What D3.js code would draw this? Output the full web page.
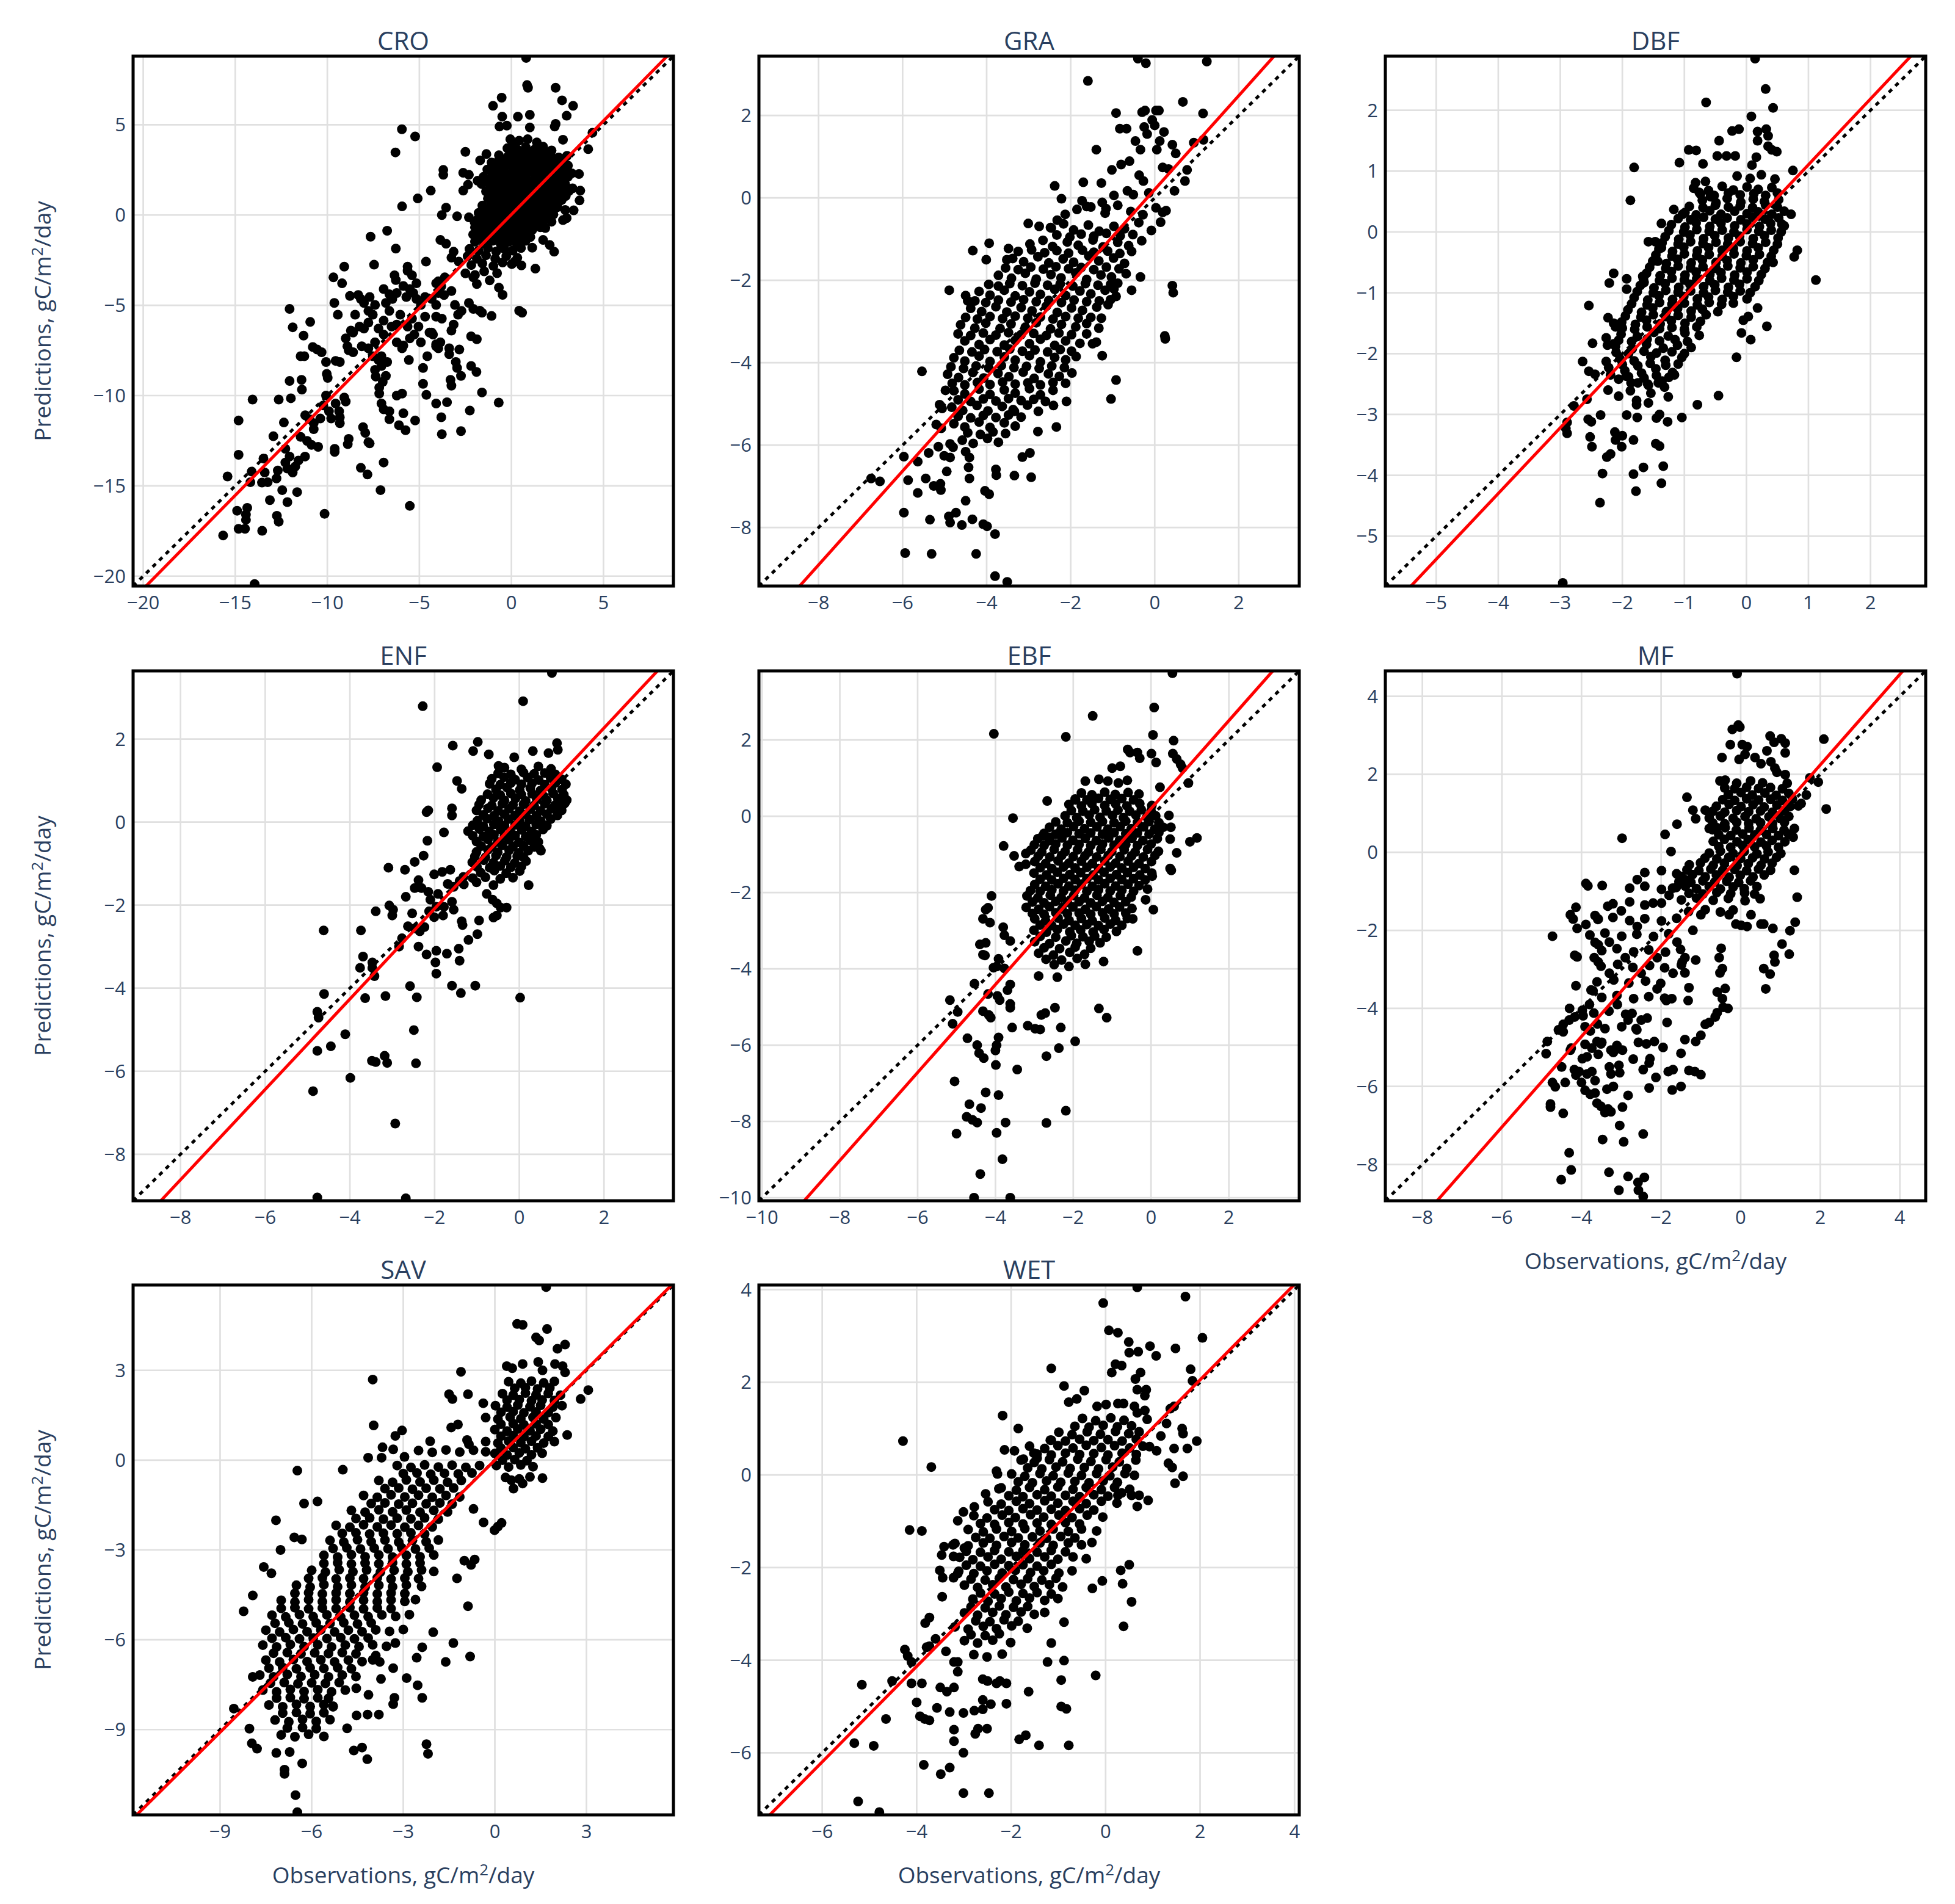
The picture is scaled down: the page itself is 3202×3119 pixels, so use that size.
<!DOCTYPE html>
<html>
<head>
<meta charset="utf-8">
<script src="https://cdn.jsdelivr.net/npm/d3@7"></script>
<style>
html,body{margin:0;padding:0;background:#fff;}
svg{display:block;}
</style>
</head>
<body>
<script>
// ---------------- DATA ----------------
const panelNames = ["CRO","GRA","DBF","ENF","EBF","MF","SAV","WET"];
const axisRanges = [[-20.55,8.8],[-9.42,3.44],[-5.82,2.89],[-9.12,3.64],[-10.08,3.81],[-8.93,4.65],[-11.85,5.85],[-7.34,4.1]];
const tickValues = [
  [-20,-15,-10,-5,0,5],
  [-8,-6,-4,-2,0,2],
  [-5,-4,-3,-2,-1,0,1,2],
  [-8,-6,-4,-2,0,2],
  [-10,-8,-6,-4,-2,0,2],
  [-8,-6,-4,-2,0,2,4],
  [-9,-6,-3,0,3],
  [-6,-4,-2,0,2,4]
];
const fitSlope = [1.037,1.139,1.081,1.088,1.153,1.160,1.010,1.031];
const fitIntercept = [0.03,0.205,0.025,0.09,0.20,-0.08,0.0,-0.01];

const croPts = [
[0.8,8.7],[0.85,7.2],[0.9,7.05],[2.4,7.05],[-0.53,6.5],[-1.0,6.05],[2.75,6.35],[3.35,6.05],[3.0,5.5],[-0.5,5.45],[0.35,5.45],[1.0,5.55],[2.4,5.05],[2.35,4.9],[-0.65,4.9],[-0.25,4.95],[1.0,4.85],[-5.95,4.75],[-5.23,4.35],[-6.3,3.47],[-0.06,4.2],[2.8,4.17],[4.4,4.56],[4.17,3.65],[-2.5,3.5],[-1.36,3.38],[-0.69,3.03],[-1.7,3.03],[-3.7,2.5],[-3.7,2.23],[-2.62,2.34],[-2.31,2.23],[-2.62,1.35],[-2.36,1.68],[-1.84,1.9],[-4.38,1.35],[-5.09,0.92],[-5.94,0.48],[-3.55,0.41],[-3.78,0],[-2.95,-0.07],[-2.31,-0.13],[-2.0,-0.39],[3.67,2.27],[3.74,1.35],[3.7,0.81],[3.38,0.26],[2.8,-0.28],[3.0,-0.17],[1.84,-0.72],[1.72,-1.38],[2.08,-1.66],[2.32,-2.03],[1.13,-1.81],[1.3,-2.97],[0.54,-2.79],[0.18,-2.58],[0.42,-5.3],[0.58,-5.41],[-1.08,-5.59],[-1.72,-5.3],[-1.6,-5.41],
[-6.75,-0.87],[-7.65,-1.2],[-6.28,-1.86],[-7.46,-2.75],[-9.08,-2.86],[-4.64,-2.58],[-3.86,-1.38],[-3.55,-1.59],[-3.26,-2.36],[-3.14,-2.03],[-2.86,-2.58],[-2.5,-3.23],[-2.07,-3.45],[-3.26,-4.21],[-3.62,-3.45],[-3.97,-3.67],[-3.07,-4.98],[-2.71,-5.31],[-2.9,-5.52],[-2.31,-4.87],[-2.07,-5.2],[-3.78,-5.74],[-3.14,-6.07],[-3.26,-6.4],[-2.19,-6.72],[-1.88,-6.88],[-2.83,-7.45],[-3.38,-7.71],[-3.02,-8.14],[-2.95,-8.47],[-2.19,-8.36],[-1.9,-8.69],[-3.31,-9.13],[-3.26,-9.45],[-2.74,-8.91],[-1.6,-9.83],[-0.69,-10.39],[-3.5,-10.37],[-4.09,-10.44],[-2.26,-10.83],[-3.81,-11.2],[-3.78,-12.14],[-2.74,-11.97],[-4.62,-9.96],[-4.8,-9.35],[-4.8,-8.47],[-4.57,-7.82],[-4.92,-7.05],[-4.09,-7.16],[-3.97,-7.38],[-5.4,-5.74],[-5.64,-6.18],[-4.09,-5.63],[-4.33,-6.51],[-5.52,-6.83],[-5.87,-7.23],[-5.57,-8.03],[-5.23,-11.38],[-5.87,-10.98],[-6.11,-11.64],[-5.75,-11.92],[-5.94,-9.89],[-6.23,-10.0],[-6.63,-10.87],[-6.63,-11.31],[-7.18,-9.89],[-7.06,-10.44],[-7.18,-9.56],[-6.94,-10.76],[-6.94,-13.71],[-7.11,-15.24],[-5.52,-16.11],[-7.77,-12.58],[-7.7,-12.65],[-8.18,-14.0],[-7.82,-14.37],[-8.06,-11.75],[-7.94,-12.07],[-8.84,-12.4],[-8.89,-12.69],[-9.6,-12.95],[-9.6,-13.12],[-10.15,-16.55],[-9.32,-11.53],[-9.32,-11.2],[-9.36,-10.87],[-9.91,-10.87],[-9.79,-11.27],[-10.22,-10.55],[-9.55,-10.44],[-10.74,-11.53],[-10.74,-11.86],[-10.38,-11.27],[-10.07,-10.0],[-9.08,-10.11],[-9.0,-10.33],[-12.64,-10.22],[-11.98,-10.15],[-14.06,-10.22],[-14.82,-11.38],[-12.36,-11.49],[-12.93,-12.25],[-11.2,-11.09],[-10.97,-11.31],[-11.45,-12.29],[-11.1,-12.51],[-10.86,-12.73],[-10.5,-12.84],[-12.28,-12.95],[-12.05,-13.38],[-11.57,-13.6],[-11.21,-13.38],[-12.28,-13.71],[-12.17,-14.04],[-11.88,-14.26],[-11.74,-13.93],[-12.69,-14.15],[-12.76,-14.59],[-13.24,-14.8],[-13.55,-14.82],[-13.4,-14.26],[-13.47,-13.49],[-12.45,-15.24],[-11.64,-15.35],[-12.17,-15.9],[-13.12,-15.79],[-14.11,-14.21],[-14.18,-14.8],[-14.82,-13.28],[-15.42,-14.48],[-14.35,-16.22],[-14.42,-16.59],[-14.42,-16.88],[-14.9,-16.38],[-14.82,-17.38],[-14.47,-17.38],[-13.54,-17.49],[-12.74,-16.66],[-12.64,-16.99],[-15.66,-17.75],[-13.95,-20.44],
[-12.05,-5.2],[-11.88,-6.22],[-10.93,-5.92],[-11.29,-6.68],[-11.45,-7.82],[-11.25,-7.82],[-10.79,-7.31],[-10.55,-7.45],[-10.31,-7.6],[-10.07,-8.14],[-10.03,-8.8],[-9.98,-9.02],[-12.05,-9.19],[-11.4,-9.13],[-11.38,-9.67],[-9.67,-3.45],[-9.2,-3.78],[-9.62,-4.87],[-9.43,-5.52],[-8.77,-4.48],[-9.0,-6.83],[-8.91,-7.27],[-8.84,-7.49],[-8.6,-7.6],[-9.55,-8.08],[-9.32,-8.14],[-8.72,-6.4],[-8.6,-6.51],[-8.32,-4.43],[-8.18,-4.65],[-8.01,-4.87],[-7.7,-4.54],[-7.41,-4.98],[-7.77,-5.31],[-7.53,-5.52],[-8.49,-5.52],[-8.25,-6.18],[-8.01,-6.29],[-7.77,-5.96],[-8.13,-7.27],[-7.77,-7.38],[-7.41,-7.05],[-7.53,-7.82],[-7.22,-8.03],[-7.41,-8.58],[-7.37,-8.95],[-6.94,-4.1],[-6.63,-4.39],[-6.82,-4.87],[-6.47,-4.65],[-6.23,-4.32],[-6.63,-5.31],[-6.94,-5.85],[-7.22,-6.29],[-6.94,-6.62],[-6.51,-6.18],[-6.23,-6.07],[-6.04,-5.52],[-6.35,-3.34],[-6.28,-3.6],[-5.64,-2.86],[-5.64,-3.09],[-5.87,-3.93],[-5.52,-4.1],[-5.33,-4.32],[-5.71,-4.54],[-5.16,-4.65],[-4.92,-4.98],[-4.69,-5.63],[-5.05,-6.18],[-5.28,-6.62],[-7.06,-7.82],[-6.75,-8.14],[-7.06,-8.36],[-6.82,-8.91],[-6.99,-9.24],[-6.23,-7.05],[-5.94,-7.38],[-4.45,-6.51],[-4.26,-6.62],[-4.09,-7.27],[-3.86,-7.05],[-3.38,-7.38],[-5.16,-3.78],[-5.4,-3.34],[-4.69,-4.54],[-4.33,-4.65],[-4.09,-3.78],[-3.81,-3.95],[-3.97,-4.32],[-3.66,-4.43],[-4.09,-4.98],
[0.42,4.12],[0.88,4.2],[1.38,4.02],[0.12,3.88],
[-0.22,3.7],[0.33,3.62],[0.78,3.76],[1.27,3.64],[1.72,3.79],[2.18,3.58],
[-0.68,3.31],[-0.19,3.24],[0.36,3.37],[0.74,3.18],[1.22,3.31],[1.66,3.22],[2.12,3.36],[2.57,3.19],[3.02,3.28],
[-1.08,2.91],[-0.62,2.84],[-0.13,2.97],[0.31,2.78],[0.82,2.92],[1.24,2.83],[1.72,2.96],[2.13,2.79],[2.62,2.91],[3.07,2.74],
[-1.31,2.52],[-0.83,2.43],[-0.38,2.56],[0.12,2.38],[0.57,2.52],[1.02,2.43],[1.47,2.57],[1.88,2.39],[2.37,2.51],[2.82,2.44],[3.28,2.31],
[-1.52,2.11],[-0.98,1.98],[-0.53,2.16],[-0.08,2.03],[0.37,2.12],[0.78,1.98],[1.27,2.16],[1.68,2.04],[2.17,2.11],[2.58,1.99],[3.07,2.12],
[-1.62,1.72],[-1.13,1.58],[-0.68,1.76],[-0.23,1.63],[0.22,1.72],[0.63,1.58],[1.12,1.77],[1.53,1.63],[2.02,1.71],[2.43,1.58],[2.92,1.72],[3.32,1.48],
[-1.38,1.31],[-0.93,1.18],[-0.48,1.36],[-0.03,1.23],[0.42,1.32],[0.83,1.18],[1.32,1.36],[1.73,1.23],[2.22,1.31],[2.63,1.18],[3.12,1.32],
[-1.28,0.91],[-0.83,0.83],[-0.38,0.97],[0.07,0.78],[0.52,0.92],[0.93,0.83],[1.42,0.97],[1.83,0.78],[2.32,0.91],[2.73,0.83],
[-1.58,0.52],[-1.08,0.43],[-0.63,0.57],[-0.18,0.38],[0.27,0.52],[0.68,0.43],[1.17,0.57],[1.58,0.38],[2.07,0.52],[2.48,0.43],[2.92,0.28],
[-1.78,0.12],[-1.28,0.03],[-0.83,0.17],[-0.38,-0.02],[0.07,0.12],[0.48,0.03],[0.97,0.17],[1.38,-0.02],[1.87,0.12],[2.28,0.03],
[-1.88,-0.28],[-1.38,-0.37],[-0.93,-0.23],[-0.48,-0.42],[-0.03,-0.28],[0.38,-0.37],[0.87,-0.23],[1.28,-0.42],[1.77,-0.28],[2.18,-0.37],
[-1.98,-0.68],[-1.53,-0.77],[-1.08,-0.63],[-0.63,-0.82],[-0.18,-0.68],[0.23,-0.77],[0.72,-0.63],[1.13,-0.82],[1.57,-0.68],
[-2.08,-1.08],[-1.63,-1.17],[-1.18,-1.03],[-0.73,-1.22],[-0.28,-1.08],[0.13,-1.17],[0.62,-1.03],[1.03,-1.22],
[-1.98,-1.48],[-1.48,-1.57],[-1.03,-1.43],[-0.58,-1.62],[-0.13,-1.48],[0.28,-1.57],[0.77,-1.43],
[-2.28,-1.88],[-1.78,-1.97],[-1.28,-1.83],[-0.83,-2.02],[-0.38,-1.88],[0.07,-1.97],[0.52,-1.83],
[-2.38,-2.28],[-1.88,-2.42],[-1.38,-2.23],[-0.88,-2.42],[-0.28,-2.28],[0.32,-2.37],
[-2.18,-2.77],[-1.58,-2.68],[-0.98,-2.82],[-0.48,-2.63],[0.02,-2.72],
[-1.48,-3.12],[-0.78,-3.22],[-1.98,-3.32],[-1.18,-3.62],[-1.88,-3.82],[-0.68,-4.02],[-0.48,-4.42],
[0.1,3.45],[0.6,3.5],[1.0,3.47],[1.45,3.52],[1.9,3.44],[-0.4,3.05],[0.1,3.1],[0.55,3.02],[1.0,3.08],[1.45,3.03],[1.9,3.1],[2.35,3.02],[2.8,3.1],
[-0.85,2.68],[-0.4,2.72],[0.1,2.65],[0.55,2.7],[1.0,2.64],[1.5,2.72],[1.95,2.63],[2.4,2.7],[2.85,2.62],
[-1.05,2.28],[-0.6,2.32],[-0.15,2.25],[0.3,2.3],[0.8,2.24],[1.25,2.33],[1.7,2.26],[2.15,2.3],[2.6,2.24],[3.05,2.3],
[-1.35,1.9],[-0.85,1.85],[-0.4,1.92],[0.05,1.86],[0.5,1.93],[0.95,1.85],[1.4,1.92],[1.85,1.86],[2.3,1.91],[2.75,1.85],
[-1.15,1.5],[-0.7,1.47],[-0.25,1.53],[0.2,1.46],[0.65,1.52],[1.1,1.46],[1.55,1.53],[2.0,1.47],[2.45,1.52],[2.85,1.45],
[-1.05,1.1],[-0.6,1.07],[-0.15,1.12],[0.3,1.06],[0.75,1.13],[1.2,1.06],[1.65,1.12],[2.1,1.07],[2.55,1.12],[2.95,1.05],
[-1.1,0.7],[-0.6,0.66],[-0.15,0.72],[0.3,0.65],[0.75,0.73],[1.2,0.66],[1.65,0.72],[2.1,0.67],[2.55,0.7],
[-1.35,0.32],[-0.85,0.28],[-0.4,0.33],[0.05,0.27],[0.5,0.32],[0.95,0.26],[1.4,0.33],[1.85,0.28],[2.3,0.3],
[-1.55,-0.1],[-1.05,-0.12],[-0.6,-0.08],[-0.15,-0.13],[0.3,-0.07],[0.75,-0.12],[1.2,-0.08],[1.65,-0.13],[2.05,-0.1],
[-1.7,-0.5],[-1.2,-0.52],[-0.75,-0.48],[-0.3,-0.53],[0.15,-0.47],[0.6,-0.52],[1.05,-0.48],[1.45,-0.5],
[-1.8,-0.9],[-1.35,-0.92],[-0.9,-0.88],[-0.45,-0.93],[0.0,-0.87],[0.45,-0.92],[0.85,-0.9],
[-1.8,-1.3],[-1.35,-1.32],[-0.9,-1.28],[-0.4,-1.33],[0.05,-1.27],[0.5,-1.3]
];

const graPts = [
[-0.4,3.38],[-0.21,3.27],[1.24,3.31],[-1.59,2.84],[0.67,2.33],[1.15,2.05],[-0.92,2.06],[-0.3,2.08],[-0.23,2.12],[0.03,2.12],[0.1,2.12],[-0.06,1.89],[0,1.76],[-0.83,1.68],[-0.67,1.68],[-0.25,1.72],[-0.18,1.55],[0.22,1.6],[-0.46,1.38],[0.12,1.38],[-1.39,1.17],[0.42,1.29],[0.93,1.34],[1.16,1.41],[-0.34,1.17],[0.05,1.17],[0.5,1.08],[-0.6,0.89],[-0.8,0.81],[-1.02,0.68],[0.77,0.68],[0.19,0.74],[0.33,0.7],[0.72,0.41],[-0.37,0.55],[-0.27,0.41],[-2.38,0.29],[-1.7,0.38],[-1.27,0.36],[-2.22,-0.02],[-0.97,0.06],[-0.65,0.17],[-0.51,0.08],[-0.14,0.12],[0.47,0.17],[0.19,-0.35],[0.14,-0.59],[-1.73,-0.07],[-1.62,-0.21],[-1.25,-0.11],[-1.16,-0.26],[-2.13,-0.4],[-3.01,-0.62],[-2.75,-0.69],[-2.46,-0.73],[-2.32,-0.54],[-4.33,-1.28],[-3.94,-1.1],[-4.01,-1.5],[-3.48,-1.23],[-3.52,-1.5],[-4.89,-2.24],[-4.5,-2.37],[-4.45,-2.5],[-0.55,-2.24],[-0.34,-1.92],[0.42,-2.13],[0.44,-2.3],[-0.97,-2.21],[-0.88,-2.07],[-1.11,-2.59],[-1.27,-2.92],[0.24,-3.35],[0.25,-3.42],[-1.48,-3.54],[-1.39,-3.5],[-1.25,-3.83],[-0.92,-4.42],[-1.04,-4.88],[-2.1,-4.94],[-2.41,-5.04],[-2.34,-5.56],[-2.78,-5.67],[-3.34,-5.18],[-5.54,-4.21],[-4.98,-4.67],[-5.12,-5.02],[-5.06,-5.11],[-5.2,-5.5],[-5.08,-5.59],[-5.15,-6.04],[-4.87,-5.97],[-4.8,-6.05],[-5.01,-6.26],[-4.87,-6.3],[-5.38,-6.19],[-5.64,-6.4],[-5.97,-6.28],[-5.87,-6.85],[-5.64,-7.16],[-5.45,-6.81],[-5.26,-6.99],[-5.1,-6.94],[-5.09,-7.09],[-4.95,-6.64],[-6.75,-6.81],[-6.54,-6.88],[-5.97,-7.64],[-5.35,-7.81],[-4.9,-7.73],[-4.87,-7.88],[-4.73,-7.64],[-4.59,-7.94],[-4.34,-7.8],[-4.5,-7.35],[-4.41,-6.81],[-4.5,-6.16],[-4.41,-6.3],[-4.43,-6.54],[-4.04,-7.11],[-3.94,-7.19],[-3.78,-6.59],[-3.77,-6.73],[-3.34,-6.74],[-2.94,-6.78],[-3.15,-6.29],[-2.97,-6.19],[-4.08,-7.92],[-3.99,-7.97],[-3.8,-8.16],[-5.94,-8.62],[-5.31,-8.64],[-4.25,-8.64],[-3.8,-9.18],[-3.51,-9.32],
[-1.85,-0.28],[-1.52,-0.22],[-1.18,-0.37],[-0.88,-0.18],[-0.57,-0.33],[-0.28,-0.41],[0.03,-0.24],[0.27,-0.31],
[-2.48,-0.72],[-2.17,-0.63],[-1.93,-0.78],[-1.58,-0.66],[-1.32,-0.81],[-0.97,-0.69],[-0.72,-0.75],[-0.38,-0.6],[-0.08,-0.79],
[-2.97,-1.12],[-2.66,-1.03],[-2.43,-1.18],[-2.08,-1.07],[-1.82,-1.15],[-1.47,-1.02],[-1.23,-1.19],[-0.88,-1.08],[-0.62,-1.16],[-0.31,-1.04],
[-3.38,-1.47],[-3.12,-1.55],[-2.78,-1.43],[-2.52,-1.58],[-2.18,-1.48],[-1.93,-1.56],[-1.57,-1.41],[-1.33,-1.53],[-0.98,-1.46],[-0.72,-1.59],
[-3.72,-1.88],[-3.41,-1.95],[-3.08,-1.83],[-2.82,-1.97],[-2.47,-1.86],[-2.23,-1.94],[-1.88,-1.82],[-1.62,-1.98],[-1.28,-1.87],[-1.03,-1.92],[-0.68,-1.84],
[-4.18,-2.27],[-3.92,-2.36],[-3.58,-2.24],[-3.32,-2.38],[-2.98,-2.28],[-2.72,-2.34],[-2.38,-2.22],[-2.12,-2.37],[-1.78,-2.26],[-1.52,-2.33],[-1.18,-2.24],[-0.92,-2.39],
[-4.38,-2.68],[-4.12,-2.76],[-3.78,-2.64],[-3.52,-2.77],[-3.18,-2.66],[-2.92,-2.74],[-2.58,-2.63],[-2.32,-2.78],[-1.98,-2.67],[-1.72,-2.73],[-1.38,-2.65],
[-4.62,-3.08],[-4.28,-3.16],[-4.02,-3.04],[-3.68,-3.17],[-3.42,-3.06],[-3.08,-3.14],[-2.82,-3.03],[-2.48,-3.18],[-2.22,-3.07],[-1.88,-3.13],[-1.62,-3.05],[-1.33,-3.16],
[-4.52,-3.47],[-4.18,-3.56],[-3.92,-3.44],[-3.58,-3.57],[-3.32,-3.46],[-2.98,-3.54],[-2.72,-3.43],[-2.38,-3.58],[-2.12,-3.47],[-1.78,-3.53],
[-4.78,-3.88],[-4.52,-3.96],[-4.18,-3.84],[-3.92,-3.97],[-3.58,-3.86],[-3.32,-3.94],[-2.98,-3.83],[-2.72,-3.98],[-2.38,-3.87],[-2.12,-3.93],[-1.87,-3.85],
[-4.93,-4.28],[-4.67,-4.36],[-4.33,-4.24],[-4.07,-4.37],[-3.73,-4.26],[-3.47,-4.34],[-3.13,-4.23],[-2.87,-4.38],[-2.53,-4.27],[-2.27,-4.33],[-1.97,-4.25],
[-4.78,-4.68],[-4.52,-4.76],[-4.18,-4.64],[-3.92,-4.77],[-3.58,-4.66],[-3.32,-4.74],[-2.98,-4.63],[-2.72,-4.78],[-2.42,-4.67],
[-4.83,-5.08],[-4.57,-5.16],[-4.23,-5.04],[-3.97,-5.17],[-3.63,-5.06],[-3.37,-5.14],[-3.03,-5.03],[-2.77,-5.18],
[-4.78,-5.48],[-4.52,-5.56],[-4.18,-5.44],[-3.92,-5.57],[-3.58,-5.46],[-3.32,-5.54],
[-4.58,-5.88],[-4.32,-5.96],[-3.98,-5.84],[-3.72,-5.93],
[-2.33,-0.9],[-2.02,-0.95],[-1.75,-0.88],[-1.45,-0.93],[-1.15,-0.86],[-0.82,-0.92],[-0.52,-0.89],
[-3.25,-1.3],[-2.93,-1.26],[-2.62,-1.33],[-2.33,-1.28],[-2.05,-1.34],[-1.72,-1.27],[-1.45,-1.32],[-1.12,-1.29],[-0.83,-1.35],[-0.55,-1.3],
[-3.55,-1.7],[-3.25,-1.74],[-2.95,-1.68],[-2.65,-1.73],[-2.35,-1.67],[-2.05,-1.72],[-1.75,-1.69],[-1.45,-1.74],[-1.15,-1.68],[-0.85,-1.72],
[-3.95,-2.1],[-3.72,-2.14],[-3.45,-2.08],[-3.15,-2.13],[-2.85,-2.07],[-2.55,-2.12],[-2.25,-2.09],[-1.95,-2.14],[-1.65,-2.08],[-1.35,-2.12],[-1.05,-2.1],
[-4.28,-2.5],[-4.02,-2.54],[-3.72,-2.48],[-3.42,-2.53],[-3.12,-2.47],[-2.82,-2.52],[-2.52,-2.49],[-2.22,-2.54],[-1.92,-2.48],[-1.62,-2.52],[-1.32,-2.5],[-1.05,-2.47],
[-4.5,-2.9],[-4.22,-2.94],[-3.92,-2.88],[-3.62,-2.93],[-3.32,-2.87],[-3.02,-2.92],[-2.72,-2.89],[-2.42,-2.94],[-2.12,-2.88],[-1.82,-2.92],[-1.52,-2.9],
[-4.68,-3.3],[-4.38,-3.34],[-4.08,-3.28],[-3.78,-3.33],[-3.48,-3.27],[-3.18,-3.32],[-2.88,-3.29],[-2.58,-3.34],[-2.28,-3.28],[-1.98,-3.32],[-1.62,-3.3],
[-4.65,-3.7],[-4.35,-3.74],[-4.05,-3.68],[-3.75,-3.73],[-3.45,-3.67],[-3.15,-3.72],[-2.85,-3.69],[-2.55,-3.74],[-2.25,-3.68],[-1.98,-3.72],
[-4.85,-4.1],[-4.55,-4.14],[-4.25,-4.08],[-3.95,-4.13],[-3.65,-4.07],[-3.35,-4.12],[-3.05,-4.09],[-2.75,-4.14],[-2.45,-4.08],[-2.15,-4.12],
[-4.82,-4.5],[-4.52,-4.54],[-4.22,-4.48],[-3.92,-4.53],[-3.62,-4.47],[-3.32,-4.52],[-3.02,-4.49],[-2.72,-4.54],[-2.42,-4.48],[-2.12,-4.5],
[-4.68,-4.9],[-4.38,-4.94],[-4.08,-4.88],[-3.78,-4.93],[-3.48,-4.87],[-3.18,-4.92],[-2.88,-4.89],[-2.6,-4.94],
[-4.68,-5.3],[-4.38,-5.34],[-4.08,-5.28],[-3.78,-5.33],[-3.48,-5.27],[-3.18,-5.32],
[-4.45,-5.7],[-4.15,-5.74],[-3.85,-5.68],[-3.55,-5.72]
];

const dbfPts = [
[0.14,2.85],[0.31,2.35],[-0.65,2.13],[0.43,2.04],[0.08,1.9],[-0.23,1.66],[-0.12,1.69],[0.18,1.65],[0.32,1.69],[0.35,1.58],[-0.44,1.5],[0.18,1.5],[0.35,1.41],[0.41,1.35],[0.49,1.32],[-0.93,1.35],[-0.81,1.34],[-0.47,1.25],[-0.32,1.25],[-0.18,1.25],[0.16,1.23],[-1.08,1.14],[-0.7,1.12],[0.09,1.1],[-1.81,1.06],[0.75,1.01],[-1.87,0.52],[-0.82,0.81],[-0.66,0.83],[-0.76,0.65],[-0.58,0.58],[-1.17,0.37],[-1.03,0.29],[-1.37,0.14],[0.72,0.29],[0.57,0.13],[-1.58,-0.16],[-1.47,-0.16],[-1.37,-0.26],[0.82,-0.3],[0.77,-0.41],[1.12,-0.79],[0.43,-0.5],[-2.14,-0.68],[-2.21,-0.84],[-1.93,-0.77],[-1.93,-0.94],[-1.67,-0.73],[-1.65,-0.83],[-1.43,-0.48],[-2.54,-1.21],[-2.23,-1.41],[-2.14,-1.5],[-2.11,-1.56],[-2.48,-1.83],[-2.26,-1.74],[-2.24,-1.86],[-2.14,-1.84],[-2.64,-2.13],[-2.54,-2.29],[-2.44,-2.34],[-2.26,-2.13],[-2.22,-2.23],[-2.23,-2.6],[-2.06,-2.7],[-2.57,-2.75],[-2.78,-2.86],[-2.89,-3.13],[-2.91,-3.23],[-2.89,-3.31],[-2.55,-3.08],[-2.5,-3.12],[-2.35,-3.01],[-2.52,-3.37],[-2.49,-3.53],[-2.12,-3.29],[-2.11,-3.42],[-2.0,-3.35],[-2.01,-3.53],[-1.93,-3.01],[-1.76,-3.05],[-1.82,-3.42],[-2.19,-3.65],[-2.25,-3.7],[-2.32,-3.97],[-1.82,-3.98],[-1.66,-3.87],[-1.78,-4.26],[-2.36,-4.45],[-1.34,-3.85],[-1.37,-4.13],[-1.46,-3.48],[-1.4,-3.52],[-1.45,-3.06],[-1.4,-3.0],[-1.27,-3.12],[-1.04,-3.05],[-1.26,-2.71],[-0.79,-2.84],[-0.45,-2.69],[-0.16,-2.06],[-0.08,-1.66],[0.07,-1.77],[0.33,-1.55],[0.18,-1.25],[-0.05,-1.45],[0.03,-1.39],[-1.75,-2.48],[-1.58,-2.52],[-1.54,-2.65],[-1.58,-2.81],[-1.77,-2.77],[-1.77,-2.84],[-1.87,-2.61],[-2.19,-2.35],[-2.06,-2.42],[-1.94,-2.37],[-1.42,-2.48],[-1.32,-2.55],[-1.16,-2.35],[-2.96,-5.77],
[-0.15,0.92],[0.06,0.88],[0.24,0.94],[0.46,0.87],
[-0.85,0.72],[-0.61,0.68],[-0.39,0.75],[-0.21,0.69],[0.01,0.74],[0.19,0.7],[0.41,0.73],
[-0.71,0.52],[-0.49,0.48],[-0.31,0.55],[-0.09,0.49],[0.11,0.54],[0.29,0.5],[0.52,0.53],
[-0.99,0.32],[-0.81,0.28],[-0.59,0.35],[-0.41,0.29],[-0.19,0.34],[0.01,0.3],[0.19,0.33],[0.41,0.29],[0.61,0.34],
[-1.21,0.12],[-0.99,0.08],[-0.81,0.15],[-0.59,0.09],[-0.41,0.14],[-0.19,0.1],[0.01,0.13],[0.21,0.09],[0.39,0.14],[0.61,0.1],
[-1.31,-0.08],[-1.09,-0.12],[-0.91,-0.05],[-0.69,-0.11],[-0.51,-0.06],[-0.29,-0.1],[-0.11,-0.07],[0.11,-0.11],[0.29,-0.06],[0.51,-0.1],
[-1.41,-0.28],[-1.19,-0.32],[-1.01,-0.25],[-0.79,-0.31],[-0.61,-0.26],[-0.39,-0.3],[-0.21,-0.27],[0.01,-0.31],[0.19,-0.26],[0.44,-0.3],
[-1.51,-0.48],[-1.29,-0.52],[-1.11,-0.45],[-0.89,-0.51],[-0.71,-0.46],[-0.49,-0.5],[-0.31,-0.47],[-0.09,-0.51],[0.11,-0.46],[0.34,-0.5],
[-1.61,-0.68],[-1.39,-0.72],[-1.21,-0.65],[-0.99,-0.71],[-0.81,-0.66],[-0.59,-0.7],[-0.41,-0.67],[-0.19,-0.71],[0.01,-0.66],[0.24,-0.7],
[-1.71,-0.88],[-1.49,-0.92],[-1.31,-0.85],[-1.09,-0.91],[-0.91,-0.86],[-0.69,-0.9],[-0.51,-0.87],[-0.29,-0.91],[-0.11,-0.86],[0.14,-0.9],
[-1.81,-1.08],[-1.59,-1.12],[-1.41,-1.05],[-1.19,-1.11],[-1.01,-1.06],[-0.79,-1.1],[-0.61,-1.07],[-0.39,-1.11],[-0.21,-1.06],[0.01,-1.1],
[-1.91,-1.28],[-1.69,-1.32],[-1.51,-1.25],[-1.29,-1.31],[-1.11,-1.26],[-0.89,-1.3],[-0.71,-1.27],[-0.46,-1.31],
[-2.01,-1.48],[-1.79,-1.52],[-1.61,-1.45],[-1.39,-1.51],[-1.21,-1.46],[-0.99,-1.5],[-0.74,-1.47],
[-2.02,-1.68],[-1.76,-1.72],[-1.49,-1.65],[-1.26,-1.71],[-0.99,-1.66],[-0.76,-1.7],
[-2.11,-1.88],[-1.84,-1.92],[-1.61,-1.85],[-1.34,-1.91],[-1.11,-1.86],[-0.89,-1.9],
[-2.04,-2.08],[-1.81,-2.12],[-1.54,-2.05],[-1.31,-2.11],[-1.04,-2.06],
[-1.96,-2.28],[-1.69,-2.32],[-1.46,-2.25],[-1.19,-2.31],
[-1.86,-2.48],[-1.59,-2.5],[-1.36,-2.45],
[-0.74,0.62],[-0.52,0.6],[-0.29,0.64],[-0.1,0.61],[0.12,0.63],[0.31,0.6],[0.5,0.64],
[-0.92,0.42],[-0.7,0.4],[-0.5,0.44],[-0.29,0.41],[-0.1,0.43],[0.1,0.4],[0.31,0.44],[0.5,0.41],
[-1.1,0.22],[-0.9,0.2],[-0.69,0.24],[-0.5,0.21],[-0.31,0.23],[-0.09,0.2],[0.1,0.24],[0.3,0.21],[0.52,0.23],
[-1.25,0.02],[-1.01,0.0],[-0.8,0.04],[-0.6,0.01],[-0.39,0.03],[-0.2,0.0],[0.01,0.04],[0.2,0.01],[0.4,0.03],[0.56,0.0],
[-1.36,-0.18],[-1.1,-0.2],[-0.9,-0.16],[-0.7,-0.19],[-0.49,-0.17],[-0.3,-0.2],[-0.1,-0.16],[0.1,-0.19],[0.31,-0.17],[0.5,-0.2],
[-1.46,-0.38],[-1.2,-0.4],[-1.0,-0.36],[-0.8,-0.39],[-0.6,-0.37],[-0.39,-0.4],[-0.2,-0.36],[0.0,-0.39],[0.21,-0.37],[0.4,-0.4],
[-1.56,-0.58],[-1.3,-0.6],[-1.1,-0.56],[-0.9,-0.59],[-0.7,-0.57],[-0.49,-0.6],[-0.3,-0.56],[-0.1,-0.59],[0.11,-0.57],[0.3,-0.6],
[-1.66,-0.78],[-1.4,-0.8],[-1.2,-0.76],[-1.0,-0.79],[-0.8,-0.77],[-0.59,-0.8],[-0.4,-0.76],[-0.2,-0.79],[0.01,-0.77],[0.2,-0.8],
[-1.76,-0.98],[-1.5,-1.0],[-1.3,-0.96],[-1.1,-0.99],[-0.9,-0.97],[-0.69,-1.0],[-0.5,-0.96],[-0.3,-0.99],[-0.1,-0.97],[0.06,-1.0],
[-1.85,-1.18],[-1.6,-1.2],[-1.4,-1.16],[-1.2,-1.19],[-1.0,-1.17],[-0.79,-1.2],[-0.6,-1.16],[-0.4,-1.19],[-0.21,-1.17],
[-1.95,-1.38],[-1.7,-1.4],[-1.5,-1.36],[-1.3,-1.39],[-1.1,-1.37],[-0.89,-1.4],[-0.65,-1.36],
[-2.0,-1.58],[-1.8,-1.6],[-1.6,-1.56],[-1.4,-1.59],[-1.2,-1.57],[-1.0,-1.6],[-0.8,-1.56],
[-2.06,-1.78],[-1.85,-1.8],[-1.6,-1.76],[-1.4,-1.79],[-1.15,-1.77],[-0.95,-1.8],
[-2.1,-1.98],[-1.9,-2.0],[-1.65,-1.96],[-1.45,-1.99],[-1.2,-1.97],[-1.0,-2.0],
[-2.0,-2.18],[-1.75,-2.2],[-1.55,-2.16],[-1.3,-2.19],[-1.1,-2.17],
[-1.9,-2.38],[-1.65,-2.4],[-1.45,-2.36],[-1.25,-2.39]
];

const enfPts = [
[0.77,3.59],[-2.28,2.79],[0.09,2.91],[-0.98,1.93],[-1.57,1.84],[-1.09,1.71],[-0.72,1.63],[-0.12,1.56],[0.32,1.71],[0.69,1.66],[0.89,1.9],[0.91,1.74],[-1.94,1.32],[-0.49,1.35],[-1.47,0.99],[-1.36,0.8],[-2.15,0.28],[-2.19,0.24],[-1.59,0.33],[-1.59,0.16],[-1.78,-0.25],[-2.17,-0.45],[1.08,0.46],[0.97,0.3],[0.48,-0.64],[0.51,-0.69],[0.22,-1.52],[-3.09,-1.1],[-2.7,-1.15],[-2.47,-0.96],[-2.26,-0.81],[-2.38,-1.4],[-2.31,-1.59],[-2.47,-1.59],[-2.68,-1.8],[-2.15,-1.68],[-2.1,-1.87],[-1.92,-1.73],[-1.96,-2.04],[-2.01,-1.26],[-1.82,-1.2],[-1.63,-1.15],[-1.69,-1.49],[-1.55,-1.56],[-1.41,-1.42],[-1.32,-1.32],[-3.39,-2.15],[-3.07,-2.01],[-2.98,-2.11],[-3.0,-2.25],[-2.53,-2.2],[-2.13,-2.15],[-2.01,-2.29],[-1.8,-2.25],[-1.78,-2.04],[-1.59,-1.92],[-1.55,-2.11],[-1.36,-2.39],[-1.34,-2.48],[-0.95,-2.37],[-0.99,-2.7],[-1.2,-2.84],[-0.77,-1.73],[-0.63,-1.87],[-0.53,-1.96],[-0.44,-2.06],[-0.3,-2.06],[-0.61,-2.3],[-0.53,-2.25],[-2.63,-2.51],[-2.47,-2.56],[-2.35,-2.63],[-2.24,-2.53],[-2.77,-2.8],[-2.84,-3.0],[-2.38,-3.0],[-2.19,-3.19],[-1.96,-3.1],[-1.71,-3.17],[-1.43,-3.05],[-1.41,-3.34],[-1.98,-3.38],[-1.96,-3.65],[-3.74,-2.61],[-4.62,-2.61],[-3.69,-3.24],[-3.76,-3.51],[-3.47,-3.38],[-3.47,-3.51],[-3.42,-3.71],[-4.61,-4.14],[-3.64,-4.24],[-3.16,-4.19],[-2.58,-3.95],[-2.42,-4.22],[-1.59,-3.94],[-1.38,-4.12],[-1.04,-3.94],[0.02,-4.23],[-4.77,-4.57],[-4.74,-4.71],[-4.11,-5.11],[-4.45,-5.4],[-4.77,-5.51],[-2.49,-5.01],[-3.48,-5.75],[-3.39,-5.78],[-3.18,-5.63],[-3.12,-5.8],[-2.44,-5.81],[-3.99,-6.16],[-4.87,-6.48],[-2.93,-7.26],[-4.77,-9.04],[-2.68,-9.06],
[-0.35,1.31],[0.05,1.27],[0.45,1.34],[0.75,1.28],
[-0.65,1.04],[-0.36,1.08],[-0.1,1.02],[0.2,1.07],[0.46,1.01],[0.74,1.06],[1.0,1.03],
[-0.55,0.78],[-0.29,0.83],[0.01,0.77],[0.26,0.82],[0.5,0.76],[0.76,0.81],[1.01,0.78],
[-0.9,0.53],[-0.61,0.58],[-0.35,0.52],[-0.09,0.57],[0.15,0.51],[0.41,0.56],[0.65,0.52],[0.91,0.57],[1.12,0.53],
[-1.01,0.28],[-0.74,0.33],[-0.5,0.27],[-0.24,0.32],[0.01,0.26],[0.26,0.31],[0.5,0.27],[0.76,0.32],[1.0,0.28],
[-0.99,0.03],[-0.76,0.08],[-0.49,0.02],[-0.26,0.07],[0.01,0.01],[0.24,0.06],[0.51,0.02],[0.74,0.07],
[-1.21,-0.22],[-0.94,-0.17],[-0.71,-0.23],[-0.44,-0.18],[-0.21,-0.24],[0.06,-0.19],[0.29,-0.23],[0.56,-0.18],
[-1.01,-0.47],[-0.74,-0.42],[-0.51,-0.48],[-0.24,-0.43],[-0.01,-0.49],[0.26,-0.44],[0.45,-0.48],
[-1.01,-0.72],[-0.74,-0.67],[-0.51,-0.73],[-0.24,-0.68],[-0.01,-0.74],[0.21,-0.69],
[-1.11,-0.97],[-0.84,-0.92],[-0.61,-0.98],[-0.34,-0.93],[-0.11,-0.99],[0.16,-0.94],
[-0.91,-1.22],[-0.59,-1.17],[-0.31,-1.23],[0.01,-1.18],
[-1.31,-1.5],[-1.01,-1.45],[-0.61,-1.52],
[-0.5,1.17],[-0.2,1.15],[0.1,1.19],[0.35,1.16],[0.6,1.18],[0.85,1.15],
[-0.7,0.92],[-0.45,0.9],[-0.2,0.94],[0.05,0.91],[0.3,0.93],[0.6,0.9],[0.85,0.94],[1.1,0.91],
[-0.75,0.67],[-0.45,0.65],[-0.2,0.69],[0.05,0.66],[0.3,0.68],[0.55,0.65],[0.8,0.69],[1.05,0.66],
[-0.95,0.42],[-0.65,0.4],[-0.4,0.44],[-0.15,0.41],[0.1,0.43],[0.35,0.4],[0.6,0.44],[0.85,0.41],[1.05,0.43],
[-0.85,0.17],[-0.6,0.15],[-0.35,0.19],[-0.1,0.16],[0.15,0.18],[0.4,0.15],[0.65,0.19],[0.9,0.16],
[-1.1,-0.08],[-0.85,-0.1],[-0.6,-0.06],[-0.35,-0.09],[-0.1,-0.07],[0.15,-0.1],[0.4,-0.06],[0.65,-0.09],
[-1.1,-0.33],[-0.85,-0.35],[-0.6,-0.31],[-0.35,-0.34],[-0.1,-0.32],[0.15,-0.35],[0.4,-0.31],
[-0.9,-0.58],[-0.65,-0.6],[-0.4,-0.56],[-0.15,-0.59],[0.1,-0.57],[0.35,-0.6],
[-1.05,-0.83],[-0.8,-0.85],[-0.55,-0.81],[-0.3,-0.84],[-0.05,-0.82],[0.1,-0.85],
[-1.0,-1.08],[-0.7,-1.1],[-0.45,-1.06],[-0.2,-1.09],[0.05,-1.07],
[-1.1,-1.35],[-0.8,-1.33],[-0.45,-1.37],[-0.15,-1.34]
];

const ebfPts = [
[0.55,3.75],[0.08,2.85],[-1.5,2.63],[-4.04,2.16],[-2.19,2.08],[0.05,2.13],[0.58,1.98],[0.56,1.64],[-0.6,1.75],[-0.54,1.67],[-0.35,1.67],[-0.29,1.52],[0.01,1.64],[0.13,1.41],[0.66,1.5],[0.76,1.36],[0.81,1.26],[-1.0,1.26],[-0.79,1.31],[0.96,0.87],[-1.69,0.92],[-1.34,0.97],[0.23,0.76],[-2.67,0.4],[-1.94,0.43],[-3.55,-0.05],[-3.79,-0.78],[-3.52,-1.04],[-3.22,-0.98],[-3.39,-1.32],[-3.22,-1.26],[-2.79,-0.52],[-2.6,-0.55],[0.46,0.02],[0.51,-0.29],[0.49,-0.6],[1.0,-0.67],[1.18,-0.57],[0.66,-0.96],[0.49,-1.37],[0.52,-1.42],[0.03,-1.57],[-0.09,-1.91],[-0.14,-2.19],[0.06,-2.45],[-0.47,-2.69],[-0.35,-3.53],[-1.22,-3.81],[-4.1,-2.09],[-4.19,-2.4],[-4.25,-2.45],[-4.32,-2.69],[-4.14,-2.79],[-4.4,-3.36],[-4.25,-3.32],[-4.32,-3.63],[-4.27,-3.65],[-3.8,-2.91],[-3.77,-3.12],[-3.62,-3.27],[-3.92,-3.74],[-3.97,-3.94],[-4.05,-3.97],[-3.77,-3.99],[-4.54,-4.39],[-4.19,-4.66],[-3.95,-4.71],[-3.89,-4.82],[-3.69,-4.56],[-3.62,-4.41],[-5.17,-4.82],[-4.97,-5.13],[-5.1,-5.44],[-4.32,-5.11],[-4.17,-5.21],[-4.12,-5.28],[-3.62,-4.92],[-3.62,-5.02],[-3.57,-5.54],[-3.17,-5.49],[-2.98,-5.57],[-2.85,-5.59],[-2.82,-5.21],[-2.72,-5.16],[-2.47,-5.02],[-2.32,-5.54],[-4.72,-5.82],[-4.47,-6.0],[-4.42,-6.21],[-4.3,-6.34],[-3.92,-5.8],[-3.97,-6.0],[-4.0,-6.14],[-3.99,-6.52],[-3.44,-6.64],[-2.69,-6.29],[-2.37,-6.08],[-1.95,-5.9],[-1.34,-5.04],[-1.14,-5.28],[-5.05,-6.95],[-4.25,-7.24],[-4.67,-7.55],[-4.37,-7.65],[-3.92,-7.31],[-4.74,-7.88],[-4.59,-7.96],[-4.47,-8.03],[-5.0,-8.32],[-3.97,-8.3],[-3.74,-8.03],[-2.69,-8.04],[-2.19,-7.72],[-3.82,-8.99],[-4.39,-9.38],[-4.55,-10.0],[-3.62,-10.0],
[-1.11,0.92],[-0.84,0.87],[-0.61,0.94],
[-1.79,0.61],[-1.52,0.56],[-1.19,0.63],[-0.92,0.57],[-0.59,0.62],[-0.31,0.58],
[-2.11,0.31],[-1.79,0.27],[-1.52,0.33],[-1.19,0.28],[-0.91,0.32],[-0.62,0.27],[-0.29,0.33],[0.02,0.28],
[-2.21,0.01],[-1.91,-0.04],[-1.59,0.03],[-1.31,-0.03],[-0.99,0.02],[-0.71,-0.04],[-0.39,0.03],[-0.11,-0.02],[0.12,0.01],
[-2.61,-0.29],[-2.31,-0.34],[-1.99,-0.27],[-1.71,-0.33],[-1.39,-0.28],[-1.11,-0.34],[-0.79,-0.27],[-0.51,-0.33],[-0.19,-0.28],[0.09,-0.34],[0.31,-0.29],
[-2.91,-0.59],[-2.61,-0.64],[-2.29,-0.57],[-2.01,-0.63],[-1.69,-0.58],[-1.41,-0.64],[-1.09,-0.57],[-0.81,-0.63],[-0.49,-0.58],[-0.21,-0.64],[0.16,-0.59],
[-3.09,-0.89],[-2.81,-0.94],[-2.49,-0.87],[-2.21,-0.93],[-1.89,-0.88],[-1.61,-0.94],[-1.29,-0.87],[-1.01,-0.93],[-0.69,-0.88],[-0.41,-0.94],[-0.09,-0.87],[0.19,-0.92],
[-2.99,-1.19],[-2.71,-1.24],[-2.39,-1.17],[-2.11,-1.23],[-1.79,-1.18],[-1.51,-1.24],[-1.19,-1.17],[-0.91,-1.23],[-0.59,-1.18],[-0.31,-1.24],[0.01,-1.19],
[-3.01,-1.49],[-2.69,-1.54],[-2.41,-1.47],[-2.09,-1.53],[-1.81,-1.48],[-1.49,-1.54],[-1.21,-1.47],[-0.89,-1.53],[-0.61,-1.48],[-0.29,-1.54],[0.02,-1.49],
[-2.99,-1.79],[-2.71,-1.84],[-2.39,-1.77],[-2.11,-1.83],[-1.79,-1.78],[-1.51,-1.84],[-1.19,-1.77],[-0.91,-1.83],[-0.59,-1.78],[-0.31,-1.82],
[-3.19,-2.09],[-2.91,-2.14],[-2.59,-2.07],[-2.31,-2.13],[-1.99,-2.08],[-1.71,-2.14],[-1.39,-2.07],[-1.11,-2.13],[-0.79,-2.08],[-0.51,-2.12],
[-3.21,-2.39],[-2.89,-2.44],[-2.61,-2.37],[-2.29,-2.43],[-2.01,-2.38],[-1.69,-2.44],[-1.41,-2.37],[-1.09,-2.43],[-0.81,-2.38],[-0.49,-2.42],
[-2.99,-2.69],[-2.71,-2.74],[-2.39,-2.67],[-2.11,-2.73],[-1.79,-2.68],[-1.51,-2.74],[-1.19,-2.67],[-0.91,-2.73],[-0.61,-2.68],
[-3.01,-2.99],[-2.69,-3.04],[-2.41,-2.97],[-2.09,-3.03],[-1.81,-2.98],[-1.49,-3.04],[-1.21,-2.97],[-0.89,-3.02],
[-2.99,-3.29],[-2.61,-3.34],[-2.19,-3.27],[-1.91,-3.33],[-1.59,-3.28],[-1.31,-3.32],
[-2.89,-3.59],[-2.51,-3.64],[-2.09,-3.57],[-1.71,-3.62],
[-2.49,-3.89],[-2.11,-3.94],[-1.69,-3.88],
[-2.89,-4.19],[-2.41,-4.22],
[-1.95,0.45],[-1.65,0.43],[-1.35,0.47],[-1.05,0.44],[-0.75,0.46],[-0.45,0.43],
[-2.05,0.15],[-1.75,0.13],[-1.45,0.17],[-1.15,0.14],[-0.85,0.16],[-0.55,0.13],[-0.25,0.17],[0.0,0.14],
[-2.45,-0.15],[-2.15,-0.17],[-1.85,-0.13],[-1.55,-0.16],[-1.25,-0.14],[-0.95,-0.17],[-0.65,-0.13],[-0.35,-0.16],[-0.05,-0.14],[0.2,-0.17],
[-2.75,-0.45],[-2.45,-0.47],[-2.15,-0.43],[-1.85,-0.46],[-1.55,-0.44],[-1.25,-0.47],[-0.95,-0.43],[-0.65,-0.46],[-0.35,-0.44],[-0.05,-0.47],[0.2,-0.43],
[-3.0,-0.75],[-2.75,-0.77],[-2.45,-0.73],[-2.15,-0.76],[-1.85,-0.74],[-1.55,-0.77],[-1.25,-0.73],[-0.95,-0.76],[-0.65,-0.74],[-0.35,-0.77],[0.0,-0.73],
[-2.9,-1.05],[-2.6,-1.07],[-2.3,-1.03],[-2.0,-1.06],[-1.7,-1.04],[-1.4,-1.07],[-1.1,-1.03],[-0.8,-1.06],[-0.5,-1.04],[-0.2,-1.07],[0.1,-1.03],
[-2.85,-1.35],[-2.55,-1.37],[-2.25,-1.33],[-1.95,-1.36],[-1.65,-1.34],[-1.35,-1.37],[-1.05,-1.33],[-0.75,-1.36],[-0.45,-1.34],[-0.15,-1.37],
[-2.85,-1.65],[-2.55,-1.67],[-2.25,-1.63],[-1.95,-1.66],[-1.65,-1.64],[-1.35,-1.67],[-1.05,-1.63],[-0.75,-1.66],[-0.45,-1.64],[-0.15,-1.67],
[-3.1,-1.95],[-2.85,-1.97],[-2.55,-1.93],[-2.25,-1.96],[-1.95,-1.94],[-1.65,-1.97],[-1.35,-1.93],[-1.05,-1.96],[-0.75,-1.94],[-0.45,-1.97],
[-3.05,-2.25],[-2.75,-2.27],[-2.45,-2.23],[-2.15,-2.26],[-1.85,-2.24],[-1.55,-2.27],[-1.25,-2.23],[-0.95,-2.26],[-0.65,-2.24],
[-3.05,-2.55],[-2.75,-2.57],[-2.45,-2.53],[-2.15,-2.56],[-1.85,-2.54],[-1.55,-2.57],[-1.25,-2.53],[-0.95,-2.56],[-0.65,-2.54],
[-2.85,-2.85],[-2.55,-2.87],[-2.25,-2.83],[-1.95,-2.86],[-1.65,-2.84],[-1.35,-2.87],[-1.05,-2.83],[-0.75,-2.86],
[-2.85,-3.15],[-2.45,-3.17],[-2.05,-3.13],[-1.75,-3.16],[-1.45,-3.14],[-1.15,-3.17],
[-2.75,-3.45],[-2.35,-3.47],[-1.95,-3.43],[-1.55,-3.46],
[-2.7,-3.75],[-2.3,-3.77],[-1.9,-3.73]
];

const mfPts = [
[-0.09,4.58],[-0.06,3.26],[-0.21,3.15],[-0.02,3.21],[-0.26,2.76],[0.04,2.76],[0.16,2.71],[0.74,2.98],[0.84,2.82],[1.02,2.91],[1.12,2.8],[1.12,2.55],[2.09,2.9],[-0.47,2.43],[-0.04,2.38],[0.11,2.51],[0.36,2.43],[0.51,2.27],[0.66,2.6],[0.76,2.32],[0.86,2.16],[0.91,2.05],[1.12,1.99],[1.17,1.77],[1.74,1.91],[1.95,1.8],[1.65,1.47],[1.45,1.19],[1.52,1.25],[2.15,1.11],[-0.52,1.83],[-0.39,1.85],[-1.35,1.41],[-1.2,1.08],[-1.13,0.86],[-0.89,1.08],[-0.79,0.61],[-0.59,0.63],[-1.6,0.72],[-1.9,0.46],[-1.75,0.02],[-2.98,0.36],[1.35,0.61],[1.32,0.39],[1.35,-0.46],[1.42,-1.15],[1.37,-1.79],[1.24,-2.01],[1.22,-2.61],[1.04,-2.35],[0.81,-1.95],[0.84,-2.64],[0.86,-2.81],[0.58,-2.98],[0.74,-3.12],[0.63,-3.5],[0.58,-1.84],[0.51,-1.84],[0.26,-1.6],[0.16,-1.9],[0.01,-1.87],[-0.12,-1.84],[-0.29,-1.6],[-0.32,-4.0],[-0.44,-3.97],[-0.59,-4.11],[-0.64,-4.22],[-0.79,-4.36],[-0.89,-4.41],[-0.46,-3.75],[-0.59,-3.58],[-0.39,-3.49],[-0.52,-3.09],[-0.46,-2.98],[-0.54,-2.7],[-0.49,-2.46],[-1.0,-4.69],[-1.13,-4.85],[-1.4,-4.8],[-1.5,-5.15],[-1.3,-5.59],[-1.15,-5.62],[-1.0,-5.7],[-1.7,-5.57],[-1.82,-5.62],[-1.5,-6.0],[-1.72,-6.09],[-1.95,-5.0],[-2.13,-5.77],[-2.28,-5.29],[-2.3,-5.4],[-2.17,-4.85],[-2.37,-4.91],[-2.45,-5.57],[-2.3,-6.04],[-2.45,-7.22],[-2.63,-4.52],[-2.57,-4.87],[-2.83,-4.3],[-2.73,-4.13],[-2.35,-4.25],[-1.85,-4.36],[-1.87,-3.8],[-1.73,-3.75],[-1.32,-3.8],[-1.3,-3.47],[-1.4,-3.09],[-1.47,-2.81],[-1.4,-2.7],[-1.13,-2.76],[-2.97,-5.07],[-3.06,-5.46],[-3.2,-5.13],[-3.04,-5.65],[-3.26,-5.68],[-3.36,-6.07],[-2.97,-6.53],[-2.83,-6.23],[-3.04,-7.0],[-2.94,-7.42],[-3.47,-7.36],[-3.31,-8.2],[-2.83,-8.31],[-3.06,-8.66],[-2.58,-8.46],[-2.57,-8.66],[-2.42,-8.33],[-2.45,-8.82],[-4.31,-7.7],[-4.26,-8.14],[-4.51,-8.39],[-4.46,-6.69],[-4.78,-6.45],[-4.78,-6.53],[-4.73,-5.9],[-4.66,-6.01],[-4.41,-5.9],[-4.86,-4.85],[-4.89,-5.16],[-4.73,-2.15],[-4.28,-1.6],[-4.21,-1.71],[-4.11,-1.95],[-4.14,-1.41],[-3.89,-0.8],[-3.84,-0.86],[-3.48,-0.85],[-4.17,-2.64],[-4.11,-2.68],[-4.14,-3.42],[-3.89,-1.85],[-3.66,-1.62],[-3.58,-1.71],[-3.34,-1.38],[-3.66,-2.31],[-3.58,-2.37],[-3.68,-2.7],[-3.58,-2.81],[-3.76,-3.53],[-3.71,-3.55],[-3.98,-4.05],[-3.96,-4.19],[-4.17,-4.22],[-4.31,-4.3],[-4.46,-4.41],[-4.58,-4.55],[-4.46,-4.6],[-4.26,-5.02],[-4.28,-5.07],[-3.91,-4.47],[-3.78,-4.58],[-3.98,-5.29],[-3.86,-5.24],[-4.06,-5.62],[-4.18,-5.57],[-4.14,-5.71],[-3.86,-5.68],[-3.74,-5.62],[-3.66,-5.85],[-3.91,-6.1],[-3.78,-6.2],[-3.66,-6.17],[-3.61,-6.43],[-3.51,-6.51],[-3.41,-6.67],[-3.33,-6.58],[-3.26,-6.65],[-3.74,-5.02],[-3.61,-4.85],[-3.51,-4.91],[-3.58,-5.18],[-3.26,-5.07],[-3.14,-5.05],
[-0.45,1.82],[-0.1,1.77],[0.25,1.83],[0.55,1.78],
[-0.31,1.48],[0.01,1.53],[0.29,1.47],[0.61,1.52],[0.89,1.46],[1.21,1.51],
[-0.61,1.18],[-0.29,1.23],[0.01,1.17],[0.31,1.22],[0.59,1.16],[0.91,1.21],[1.24,1.17],
[-0.79,0.88],[-0.51,0.93],[-0.19,0.87],[0.11,0.92],[0.39,0.86],[0.71,0.91],[0.99,0.87],[1.21,0.92],
[-0.71,0.58],[-0.39,0.63],[-0.11,0.57],[0.21,0.62],[0.49,0.56],[0.81,0.61],[1.09,0.57],
[-0.69,0.28],[-0.41,0.33],[-0.09,0.27],[0.19,0.32],[0.51,0.26],[0.79,0.31],[1.11,0.27],
[-0.79,-0.02],[-0.51,0.03],[-0.19,-0.03],[0.09,0.02],[0.41,-0.04],[0.69,0.01],[1.01,-0.03],
[-1.29,-0.32],[-1.01,-0.27],[-0.69,-0.33],[-0.41,-0.28],[-0.09,-0.34],[0.19,-0.29],[0.51,-0.33],[0.79,-0.28],
[-1.49,-0.62],[-1.21,-0.57],[-0.89,-0.63],[-0.61,-0.58],[-0.29,-0.64],[-0.01,-0.59],[0.31,-0.63],[0.59,-0.58],
[-1.71,-0.92],[-1.39,-0.87],[-1.11,-0.93],[-0.79,-0.88],[-0.51,-0.94],[-0.19,-0.89],[0.09,-0.93],[0.41,-0.88],
[-1.49,-1.22],[-1.11,-1.17],[-0.69,-1.23],[-0.31,-1.18],[0.11,-1.24],[0.49,-1.19],
[-1.31,-1.52],[-0.89,-1.47],[-0.51,-1.53],[-0.19,-1.48],
[-2.41,-0.52],[-1.99,-0.47],[-1.61,-0.55],
[-2.79,-0.92],[-2.41,-0.87],[-1.99,-0.95],[-1.62,-0.9],
[-3.21,-1.32],[-2.79,-1.27],[-2.41,-1.35],[-1.99,-1.3],
[-3.59,-1.72],[-3.21,-1.67],[-2.79,-1.75],[-2.41,-1.7],[-1.99,-1.76],[-1.61,-1.69],
[-3.79,-2.12],[-3.41,-2.07],[-2.99,-2.15],[-2.61,-2.1],[-2.19,-2.16],[-1.81,-2.09],
[-3.49,-2.52],[-3.11,-2.47],[-2.69,-2.55],[-2.31,-2.5],[-1.89,-2.56],[-1.51,-2.49],
[-3.51,-2.92],[-3.09,-2.87],[-2.71,-2.95],[-2.29,-2.9],[-1.91,-2.96],[-1.49,-2.89],
[-3.61,-3.32],[-3.19,-3.27],[-2.81,-3.35],[-2.39,-3.3],[-2.01,-3.36],
[-3.49,-3.72],[-3.11,-3.67],[-2.69,-3.75],[-2.31,-3.7],[-1.91,-3.74],
[-3.69,-4.12],[-3.31,-4.07],[-2.89,-4.15],
[-3.41,-4.52],[-2.99,-4.47],[-2.61,-4.55],
[-3.91,-4.92],[-3.49,-4.87],[-3.11,-4.95],
[-0.4,1.65],[-0.15,1.63],[0.15,1.67],[0.45,1.64],[0.75,1.66],[1.05,1.63],
[-0.45,1.35],[-0.15,1.33],[0.15,1.37],[0.45,1.34],[0.75,1.36],[1.05,1.33],[1.3,1.37],
[-0.7,1.05],[-0.4,1.03],[-0.1,1.07],[0.2,1.04],[0.5,1.06],[0.8,1.03],[1.1,1.07],
[-0.7,0.75],[-0.4,0.73],[-0.1,0.77],[0.2,0.74],[0.5,0.76],[0.8,0.73],[1.1,0.77],
[-0.55,0.45],[-0.25,0.43],[0.05,0.47],[0.35,0.44],[0.65,0.46],[0.95,0.43],[1.2,0.47],
[-0.55,0.15],[-0.25,0.13],[0.05,0.17],[0.35,0.14],[0.65,0.16],[0.95,0.13],
[-0.9,-0.15],[-0.6,-0.17],[-0.3,-0.13],[0.0,-0.16],[0.3,-0.14],[0.6,-0.17],[0.9,-0.13],
[-1.35,-0.45],[-1.05,-0.47],[-0.75,-0.43],[-0.45,-0.46],[-0.15,-0.44],[0.15,-0.47],[0.45,-0.43],[0.75,-0.46],
[-1.55,-0.75],[-1.25,-0.77],[-0.95,-0.73],[-0.65,-0.76],[-0.35,-0.74],[-0.05,-0.77],[0.25,-0.73],
[-1.3,-1.05],[-0.95,-1.07],[-0.6,-1.03],[-0.25,-1.06],[0.1,-1.04],[0.35,-1.07],
[-3.0,-1.5],[-2.6,-1.9],[-3.3,-2.3],[-2.9,-2.7],[-2.1,-2.7],[-3.3,-3.1],[-2.5,-3.1],[-3.8,-3.9],[-2.1,-3.5],[-1.7,-3.1],[-1.6,-2.3],[-1.2,-2.0],[-1.0,-1.6],[-2.2,-1.3],[-1.8,-1.1],[-2.6,-0.7],[-1.4,-0.7],[-3.1,-3.9],[-2.5,-4.3],[-3.6,-4.4],[-3.3,-5.5],[-2.7,-5.3],[-4.0,-5.9],[-3.2,-6.0],[-4.3,-4.0],[-4.5,-5.5]
];

const savPts = [
[1.68,5.78],[0.73,4.55],[0.91,4.52],[1.71,4.38],[1.35,4.1],[1.45,4.0],[2.05,3.72],[2.3,3.86],[-1.11,2.95],[-4.0,2.69],[0.39,3.14],[0.57,3.07],[0.91,3.21],[1.42,3.28],[1.56,3.0],[1.97,3.21],[2.22,3.14],[2.3,2.93],[3.06,2.34],[2.81,2.04],[2.37,0.84],[-1.5,2.2],[-1.39,2.04],[-0.88,2.2],[-0.38,1.9],[-3.97,1.16],[-3.04,0.99],[-3.26,0.81],[-1.43,1.09],[-1.21,1.19],[-0.91,0.67],[-0.85,0.53],[-2.12,0.63],[-3.68,0.43],[-3.33,0.36],[-4.15,0.08],[-3.71,0.08],[-2.96,0.11],[-6.47,-0.35],[-4.98,-0.32],[-5.81,-1.38],[-6.25,-1.45],[-7.17,-2.01],[-6.57,-2.58],[-6.32,-2.65],[-7.02,-3.0],[-7.57,-3.57],[-7.32,-3.78],[-7.93,-4.52],[-8.23,-5.05],[-7.93,-7.24],[-8.55,-8.3],[-8.04,-8.97],[-7.96,-9.46],[-7.79,-9.64],[-7.16,-9.78],[-6.72,-9.75],[-6.89,-10.34],[-6.89,-10.48],[-6.31,-10.13],[-6.53,-11.19],[-6.47,-11.76],[-4.62,-9.7],[-4.35,-9.6],[-4.18,-9.99],[-2.24,-9.49],[-2.19,-9.81],[-5.3,-8.22],[-4.84,-8.96],[-4.53,-8.53],[-4.17,-8.5],[-3.8,-8.5],[-3.33,-8.15],[-3.29,-7.94],[-2.38,-7.94],[-2.53,-7.52],[-2.89,-7.28],[-3.33,-6.95],[-3.73,-7.31],[-4.14,-7.84],[-4.54,-7.62],[-2.56,-6.6],[-2.38,-6.25],[-1.61,-6.74],[-1.36,-6.11],[-0.81,-6.56],[-0.88,-4.88],[-2.02,-5.75],[-3.26,-6.11],[-3.77,-6.74],[-3.9,-6.53],[-1.24,-3.95],[-1.0,-3.36],[-0.78,-3.5],[-0.66,-3.32],[-0.37,-2.08],[-0.01,-2.34],[0.1,-2.22],[0.22,-2.1],[-0.7,-1.63],[0.54,-0.67],[0.61,-0.95],[1.56,-0.6],[0.91,-0.78],
[0.45,2.62],[0.85,2.57],[1.2,2.64],[1.6,2.58],[1.95,2.63],
[0.25,2.22],[0.6,2.17],[1.0,2.24],[1.35,2.18],[1.75,2.23],[2.15,2.17],
[0.02,1.82],[0.4,1.77],[0.75,1.84],[1.15,1.78],[1.5,1.83],[1.9,1.77],[2.2,1.82],
[-0.3,1.42],[0.1,1.37],[0.5,1.44],[0.85,1.38],[1.25,1.43],[1.6,1.37],[2.0,1.42],
[0.0,1.02],[0.4,0.97],[0.75,1.04],[1.15,0.98],[1.5,1.03],[1.9,0.97],
[-0.3,0.62],[0.1,0.57],[0.45,0.64],[0.85,0.58],[1.2,0.63],[1.6,0.57],[1.95,0.62],
[0.0,0.22],[0.4,0.17],[0.8,0.24],[1.2,0.18],[1.55,0.23],
[0.05,-0.18],[0.45,-0.23],[0.85,-0.16],[1.25,-0.22],
[0.35,-0.58],[0.8,-0.63],[1.15,-0.56],
[0.65,2.4],[1.0,2.42],[1.4,2.38],[1.8,2.41],
[0.4,2.0],[0.8,2.02],[1.2,1.98],[1.55,2.01],[1.95,1.99],
[0.2,1.6],[0.6,1.62],[0.95,1.58],[1.35,1.61],[1.75,1.59],
[0.2,1.2],[0.6,1.22],[0.95,1.18],[1.35,1.21],[1.75,1.19],
[0.2,0.8],[0.6,0.82],[0.95,0.78],[1.35,0.81],[1.75,0.79],
[0.2,0.4],[0.6,0.42],[1.0,0.38],[1.4,0.41],
[0.25,0.0],[0.65,0.02],[1.05,-0.02],
[-2.5,0.32],[-2.05,0.26],[-1.6,0.34],[-1.15,0.27],[-0.7,0.33],[-0.3,0.28],
[-3.2,-0.18],[-2.75,-0.24],[-2.3,-0.16],[-1.85,-0.23],[-1.4,-0.17],[-0.95,-0.24],[-0.5,-0.18],
[-3.8,-0.68],[-3.35,-0.74],[-2.9,-0.66],[-2.45,-0.73],[-2.0,-0.67],[-1.55,-0.74],[-1.1,-0.68],
[-4.3,-1.18],[-3.85,-1.24],[-3.4,-1.16],[-2.95,-1.23],[-2.5,-1.17],[-2.05,-1.24],[-1.6,-1.18],[-1.15,-1.23],
[-4.7,-1.68],[-4.25,-1.74],[-3.8,-1.66],[-3.35,-1.73],[-2.9,-1.67],[-2.45,-1.74],[-2.0,-1.68],[-1.55,-1.73],
[-5.2,-2.18],[-4.75,-2.24],[-4.3,-2.16],[-3.85,-2.23],[-3.4,-2.17],[-2.95,-2.24],[-2.5,-2.18],[-2.05,-2.23],
[-5.4,-2.68],[-4.95,-2.74],[-4.5,-2.66],[-4.05,-2.73],[-3.6,-2.67],[-3.15,-2.74],[-2.7,-2.68],[-2.25,-2.73],[-1.85,-2.67],
[-5.6,-3.18],[-5.15,-3.24],[-4.7,-3.16],[-4.25,-3.23],[-3.8,-3.17],[-3.35,-3.24],[-2.9,-3.18],[-2.45,-3.23],[-2.0,-3.17],
[-6.0,-3.68],[-5.55,-3.74],[-5.1,-3.66],[-4.65,-3.73],[-4.2,-3.67],[-3.75,-3.74],[-3.3,-3.68],[-2.85,-3.73],[-2.4,-3.67],[-2.0,-3.72],
[-6.5,-4.18],[-6.05,-4.24],[-5.6,-4.16],[-5.15,-4.23],[-4.7,-4.17],[-4.25,-4.24],[-3.8,-4.18],[-3.35,-4.23],[-2.9,-4.17],[-2.4,-4.22],
[-7.0,-4.68],[-6.55,-4.74],[-6.1,-4.66],[-5.65,-4.73],[-5.2,-4.67],[-4.75,-4.74],[-4.3,-4.68],[-3.85,-4.73],[-3.4,-4.67],[-2.95,-4.72],[-2.6,-4.66],
[-7.3,-5.18],[-6.85,-5.24],[-6.4,-5.16],[-5.95,-5.23],[-5.5,-5.17],[-5.05,-5.24],[-4.6,-5.18],[-4.15,-5.23],[-3.7,-5.17],[-3.25,-5.22],[-2.8,-5.16],
[-7.5,-5.68],[-7.05,-5.74],[-6.6,-5.66],[-6.15,-5.73],[-5.7,-5.67],[-5.25,-5.74],[-4.8,-5.68],[-4.35,-5.73],[-3.9,-5.67],[-3.45,-5.72],[-3.0,-5.66],
[-7.6,-6.18],[-7.15,-6.24],[-6.7,-6.16],[-6.25,-6.23],[-5.8,-6.17],[-5.35,-6.24],[-4.9,-6.18],[-4.45,-6.23],[-4.0,-6.17],[-3.55,-6.22],
[-7.5,-6.68],[-7.05,-6.74],[-6.6,-6.66],[-6.15,-6.73],[-5.7,-6.67],[-5.25,-6.74],[-4.8,-6.68],[-4.35,-6.73],[-4.0,-6.67],
[-7.7,-7.18],[-7.25,-7.24],[-6.8,-7.16],[-6.35,-7.23],[-5.9,-7.17],[-5.45,-7.24],[-5.0,-7.18],[-4.55,-7.23],
[-7.6,-7.68],[-7.15,-7.74],[-6.7,-7.66],[-6.25,-7.73],[-5.8,-7.67],[-5.35,-7.74],[-4.9,-7.68],
[-7.4,-8.18],[-6.95,-8.24],[-6.5,-8.16],[-6.05,-8.23],[-5.6,-8.17],[-5.3,-8.24],
[-7.2,-8.68],[-6.75,-8.74],[-6.3,-8.66],[-5.85,-8.73],[-5.4,-8.67],
[-7.0,-9.18],[-6.55,-9.24],[-6.1,-9.16],[-5.6,-9.23],
[-3.0,-0.45],[-2.55,-0.43],[-2.1,-0.47],[-1.65,-0.44],[-1.2,-0.46],[-0.75,-0.43],
[-3.6,-0.95],[-3.15,-0.93],[-2.7,-0.97],[-2.25,-0.94],[-1.8,-0.96],[-1.35,-0.93],
[-4.05,-1.45],[-3.6,-1.43],[-3.15,-1.47],[-2.7,-1.44],[-2.25,-1.46],[-1.8,-1.43],[-1.4,-1.47],
[-4.55,-1.95],[-4.1,-1.93],[-3.65,-1.97],[-3.2,-1.94],[-2.75,-1.96],[-2.3,-1.93],[-1.85,-1.97],
[-5.0,-2.45],[-4.55,-2.43],[-4.1,-2.47],[-3.65,-2.44],[-3.2,-2.46],[-2.75,-2.43],[-2.3,-2.47],
[-5.3,-2.95],[-4.85,-2.93],[-4.4,-2.97],[-3.95,-2.94],[-3.5,-2.96],[-3.05,-2.93],[-2.6,-2.97],[-2.15,-2.94],
[-5.6,-3.45],[-5.15,-3.43],[-4.7,-3.47],[-4.25,-3.44],[-3.8,-3.46],[-3.35,-3.43],[-2.9,-3.47],[-2.45,-3.44],
[-6.1,-3.95],[-5.65,-3.93],[-5.2,-3.97],[-4.75,-3.94],[-4.3,-3.96],[-3.85,-3.93],[-3.4,-3.97],[-2.95,-3.94],[-2.5,-3.96],
[-6.55,-4.45],[-6.1,-4.43],[-5.65,-4.47],[-5.2,-4.44],[-4.75,-4.46],[-4.3,-4.43],[-3.85,-4.47],[-3.4,-4.44],[-2.95,-4.46],
[-7.0,-4.95],[-6.55,-4.93],[-6.1,-4.97],[-5.65,-4.94],[-5.2,-4.96],[-4.75,-4.93],[-4.3,-4.97],[-3.85,-4.94],[-3.4,-4.96],
[-7.2,-5.45],[-6.75,-5.43],[-6.3,-5.47],[-5.85,-5.44],[-5.4,-5.46],[-4.95,-5.43],[-4.5,-5.47],[-4.05,-5.44],
[-7.3,-5.95],[-6.85,-5.93],[-6.4,-5.97],[-5.95,-5.94],[-5.5,-5.96],[-5.05,-5.93],[-4.6,-5.97],[-4.15,-5.94],
[-7.25,-6.45],[-6.8,-6.43],[-6.35,-6.47],[-5.9,-6.44],[-5.45,-6.46],[-5.0,-6.43],[-4.55,-6.47],
[-7.4,-6.95],[-6.95,-6.93],[-6.5,-6.97],[-6.05,-6.94],[-5.6,-6.96],[-5.15,-6.93],[-4.7,-6.97],
[-7.35,-7.45],[-6.9,-7.43],[-6.45,-7.47],[-6.0,-7.44],[-5.55,-7.46],[-5.1,-7.43],
[-7.15,-7.95],[-6.7,-7.93],[-6.25,-7.97],[-5.8,-7.94],[-5.45,-7.96],
[-6.95,-8.45],[-6.5,-8.43],[-6.05,-8.47],[-5.6,-8.44],
[-6.8,-8.95],[-6.3,-8.93],[-5.85,-8.97]
];

const wetPts = [
[0.67,4.05],[1.69,3.85],[-0.05,3.71],[0.07,3.12],[0.26,3.07],[2.05,2.96],[0.49,2.87],[0.5,2.64],[0.69,2.66],[0.94,2.78],[1.07,2.57],[1.48,2.73],[-1.15,2.3],[0.21,2.39],[0.34,2.36],[0.13,2.21],[0.74,2.21],[0.63,2.07],[1.8,2.28],[1.84,2.03],[-0.88,1.92],[-0.45,1.82],[-0.78,1.57],[-0.61,1.64],[0.67,1.84],[0.86,1.84],[0.83,1.71],[0.01,1.52],[-0.18,1.48],[0.26,1.54],[0.38,1.54],[0.61,1.48],[0.67,1.34],[0.83,1.39],[0.88,1.2],[1.45,1.48],[1.37,1.43],[-2.18,1.28],[-1.85,1.0],[-1.17,0.75],[-4.29,0.73],[-3.69,0.17],[1.17,0.84],[1.29,1.11],[1.62,1.0],[1.64,0.89],[1.93,0.73],[1.73,0.57],[1.45,0.57],[1.33,0.25],[1.41,0.16],[1.64,-0.03],[1.47,-0.18],[1.08,0.52],[0.93,0.61],[0.67,-0.68],[0.9,-0.55],[0.71,-0.44],[0.55,-0.44],[0.34,-0.39],[0.26,-0.44],[-2.31,0.08],[-2.29,0.02],[-2.14,0.54],[-1.93,0.52],[-1.74,0.34],[-1.52,0.47],[-1.45,0.36],[-2.54,-0.41],[-2.26,-0.3],[-4.15,-1.19],[-3.89,-1.21],[-3.13,-0.99],[-3.01,-0.8],[-2.78,-0.69],[-3.42,-1.55],[-3.23,-1.51],[-2.99,-1.58],[-3.47,-1.73],[-3.22,-1.76],[-3.51,-2.06],[-3.45,-2.22],[-3.22,-2.22],[-3.13,-2.13],[-3.46,-2.63],[0.32,-2.06],[0.36,-2.35],[0.5,-1.94],[0.55,-2.74],[0.38,-3.27],[-0.28,-2.45],[-0.07,-2.29],[-0.21,-4.33],[-0.88,-3.18],[-1.15,-3.63],[-1.23,-4.04],[-0.88,-4.01],[-0.94,-4.43],[-0.94,-5.0],[-0.83,-5.05],[-0.78,-5.84],[-1.41,-5.84],[-1.63,-4.68],[-1.83,-5.71],[-1.69,-5.62],[-2.1,-4.94],[-2.1,-4.5],[-2.31,-4.5],[-2.24,-4.45],[-2.43,-4.95],[-2.6,-4.41],[-2.5,-4.45],[-2.78,-5.09],[-2.6,-5.06],[-2.6,-4.86],[-2.7,-5.48],[-2.51,-5.48],[-2.76,-5.59],[-2.47,-6.87],[-3.01,-6.87],[-3.01,-6.0],[-3.01,-5.14],[-3.3,-5.12],[-3.21,-5.5],[-3.21,-5.75],[-3.3,-6.32],[-3.49,-6.46],[-3.85,-6.26],[-3.57,-5.03],[-3.5,-4.59],[-3.36,-4.68],[-3.21,-4.59],[-3.13,-4.25],[-3.13,-4.04],[-3.21,-4.04],[-3.93,-5.21],[-3.83,-5.27],[-3.73,-5.3],[-4.0,-4.91],[-4.11,-4.5],[-3.89,-4.5],[-4.52,-4.45],[-4.65,-5.27],[-5.16,-4.53],[-5.32,-5.79],[-4.91,-5.85],[-5.24,-7.05],[-4.79,-7.28],[-4.25,-3.77],[-4.19,-3.91],[-4.11,-4.04],[-3.79,-3.72],[-3.73,-3.7],[-3.82,-3.2],[-3.73,-3.08],[-3.6,-3.54],[-3.38,-3.81],
[-0.49,1.22],[-0.21,1.17],[0.11,1.23],[0.39,1.18],
[-0.99,0.92],[-0.71,0.87],[-0.39,0.93],[-0.11,0.88],[0.21,0.94],[0.49,0.89],[0.71,0.93],
[-1.61,0.62],[-1.29,0.57],[-1.01,0.63],[-0.69,0.58],[-0.41,0.64],[-0.09,0.59],[0.19,0.63],[0.51,0.58],[0.79,0.62],
[-1.79,0.32],[-1.51,0.27],[-1.19,0.33],[-0.91,0.28],[-0.59,0.34],[-0.31,0.29],[0.01,0.33],[0.29,0.28],[0.64,0.32],
[-1.99,0.02],[-1.71,-0.03],[-1.39,0.03],[-1.11,-0.02],[-0.79,0.04],[-0.51,-0.01],[-0.19,0.03],[0.09,-0.02],[0.41,0.03],[0.61,-0.01],
[-2.21,-0.28],[-1.89,-0.33],[-1.61,-0.27],[-1.29,-0.32],[-1.01,-0.26],[-0.69,-0.31],[-0.41,-0.27],[-0.09,-0.32],[0.19,-0.27],[0.51,-0.31],
[-2.49,-0.58],[-2.21,-0.63],[-1.89,-0.57],[-1.61,-0.62],[-1.29,-0.56],[-1.01,-0.61],[-0.69,-0.57],[-0.41,-0.62],[-0.09,-0.57],[0.24,-0.61],
[-2.79,-0.88],[-2.51,-0.93],[-2.19,-0.87],[-1.91,-0.92],[-1.59,-0.86],[-1.31,-0.91],[-0.99,-0.87],[-0.71,-0.92],[-0.39,-0.87],[-0.06,-0.91],
[-2.91,-1.18],[-2.59,-1.23],[-2.31,-1.17],[-1.99,-1.22],[-1.71,-1.16],[-1.39,-1.21],[-1.11,-1.17],[-0.79,-1.22],[-0.51,-1.17],[-0.19,-1.21],
[-3.19,-1.48],[-2.91,-1.53],[-2.59,-1.47],[-2.31,-1.52],[-1.99,-1.46],[-1.71,-1.51],[-1.39,-1.47],[-1.11,-1.52],[-0.79,-1.47],[-0.51,-1.51],[-0.29,-1.46],
[-3.09,-1.78],[-2.81,-1.83],[-2.49,-1.77],[-2.21,-1.82],[-1.89,-1.76],[-1.61,-1.81],[-1.29,-1.77],[-1.01,-1.82],[-0.69,-1.77],[-0.41,-1.81],
[-3.11,-2.08],[-2.79,-2.13],[-2.51,-2.07],[-2.19,-2.12],[-1.91,-2.06],[-1.59,-2.11],[-1.31,-2.07],[-0.99,-2.12],[-0.71,-2.07],
[-2.99,-2.38],[-2.71,-2.43],[-2.39,-2.37],[-2.11,-2.42],[-1.79,-2.36],[-1.51,-2.41],[-1.19,-2.37],[-0.91,-2.42],
[-2.81,-2.68],[-2.49,-2.73],[-2.21,-2.67],[-1.89,-2.72],[-1.61,-2.66],[-1.29,-2.71],[-1.01,-2.67],
[-2.99,-2.98],[-2.71,-3.03],[-2.39,-2.97],[-2.11,-3.02],[-1.79,-2.96],[-1.51,-3.01],[-1.29,-2.97],
[-3.19,-3.28],[-2.91,-3.33],[-2.59,-3.27],[-2.31,-3.32],[-1.99,-3.26],[-1.66,-3.31],
[-2.99,-3.58],[-2.71,-3.63],[-2.39,-3.57],[-2.01,-3.62],
[-2.79,-3.88],[-2.51,-3.93],[-2.19,-3.87],
[-0.65,1.05],[-0.35,1.03],[-0.05,1.07],[0.25,1.04],[0.55,1.06],
[-1.15,0.75],[-0.85,0.73],[-0.55,0.77],[-0.25,0.74],[0.05,0.76],[0.35,0.73],[0.65,0.77],
[-1.45,0.45],[-1.15,0.43],[-0.85,0.47],[-0.55,0.44],[-0.25,0.46],[0.05,0.43],[0.35,0.47],[0.65,0.44],
[-1.65,0.15],[-1.35,0.13],[-1.05,0.17],[-0.75,0.14],[-0.45,0.16],[-0.15,0.13],[0.15,0.17],[0.45,0.14],
[-1.85,-0.15],[-1.55,-0.17],[-1.25,-0.13],[-0.95,-0.16],[-0.65,-0.14],[-0.35,-0.17],[-0.05,-0.13],[0.25,-0.16],
[-2.05,-0.45],[-1.75,-0.47],[-1.45,-0.43],[-1.15,-0.46],[-0.85,-0.44],[-0.55,-0.47],[-0.25,-0.43],[0.05,-0.46],
[-2.35,-0.75],[-2.05,-0.77],[-1.75,-0.73],[-1.45,-0.76],[-1.15,-0.74],[-0.85,-0.77],[-0.55,-0.73],[-0.25,-0.76],
[-2.65,-1.05],[-2.35,-1.07],[-2.05,-1.03],[-1.75,-1.06],[-1.45,-1.04],[-1.15,-1.07],[-0.85,-1.03],[-0.55,-1.06],
[-2.75,-1.35],[-2.45,-1.37],[-2.15,-1.33],[-1.85,-1.36],[-1.55,-1.34],[-1.25,-1.37],[-0.95,-1.33],[-0.65,-1.36],
[-2.95,-1.65],[-2.65,-1.67],[-2.35,-1.63],[-2.05,-1.66],[-1.75,-1.64],[-1.45,-1.67],[-1.15,-1.63],[-0.85,-1.66],
[-2.95,-1.95],[-2.65,-1.97],[-2.35,-1.93],[-2.05,-1.96],[-1.75,-1.94],[-1.45,-1.97],[-1.15,-1.93],
[-2.85,-2.25],[-2.55,-2.27],[-2.25,-2.23],[-1.95,-2.26],[-1.65,-2.24],[-1.35,-2.27],[-1.05,-2.23],
[-2.65,-2.55],[-2.35,-2.57],[-2.05,-2.53],[-1.75,-2.56],[-1.45,-2.54],[-1.15,-2.57],
[-2.85,-2.85],[-2.55,-2.87],[-2.25,-2.83],[-1.95,-2.86],[-1.65,-2.84],
[-2.75,-3.15],[-2.45,-3.17],[-2.15,-3.13],[-1.85,-3.16],
[-2.85,-3.45],[-2.55,-3.47],[-2.25,-3.43]
];

const panelPoints = [croPts, graPts, dbfPts, enfPts, ebfPts, mfPts, savPts, wetPts];
const yAxisTitle = "Predictions, gC/m";
const xAxisTitle = "Observations, gC/m";
const titleUnitTail = "/day";

// ---------------- LAYOUT ----------------
const W = 3202, H = 3119;
const colX = [218, 1243, 2269];
const rowY = [92, 1099, 2105];
const PW = 885, PH = 868;
const showXTitle = [false,false,false,false,false,true,true,true];
const showYTitle = [true,false,false,true,false,false,true,false];
const FONT = '"Open Sans", verdana, arial, sans-serif';
const TXT = '#2a3f5f';

const svg = d3.select('body').append('svg')
  .attr('width', W).attr('height', H)
  .attr('viewBox', `0 0 ${W} ${H}`)
  .style('font-family', FONT);
svg.append('rect').attr('width', W).attr('height', H).attr('fill', '#fff');
const defs = svg.append('defs');

const fmt = v => v < 0 ? '\u2212' + Math.abs(v) : String(v);

function addUnitTitle(sel, base) {
  sel.append('tspan').text(base);
  sel.append('tspan').attr('font-size', 26).attr('dy', -13).text('2');
  sel.append('tspan').attr('dy', 13).text(titleUnitTail);
}

panelNames.forEach((name, i) => {
  const col = i % 3, row = Math.floor(i / 3);
  const x0 = colX[col], y0 = rowY[row];
  const [lo, hi] = axisRanges[i];
  const x = d3.scaleLinear().domain([lo, hi]).range([x0, x0 + PW]);
  const y = d3.scaleLinear().domain([lo, hi]).range([y0 + PH, y0]);
  const g = svg.append('g');

  const clipId = 'clip' + i;
  defs.append('clipPath').attr('id', clipId)
    .append('rect').attr('x', x0).attr('y', y0).attr('width', PW).attr('height', PH);

  const ticks = tickValues[i];
  const grid = g.append('g');
  grid.selectAll('line.v').data(ticks).join('line')
    .attr('class','v')
    .attr('x1', d => x(d)).attr('x2', d => x(d))
    .attr('y1', y0).attr('y2', y0 + PH)
    .attr('stroke', '#e0e0e0').attr('stroke-width', 2.7);
  grid.selectAll('line.h').data(ticks).join('line')
    .attr('class','h')
    .attr('y1', d => y(d)).attr('y2', d => y(d))
    .attr('x1', x0).attr('x2', x0 + PW)
    .attr('stroke', '#e0e0e0').attr('stroke-width', 2.7);

  const clipG = g.append('g').attr('clip-path', `url(#${clipId})`);
  clipG.selectAll('circle').data(panelPoints[i]).join('circle')
    .attr('cx', d => x(d[0])).attr('cy', d => y(d[1]))
    .attr('r', 8).attr('fill', '#000');
  clipG.append('line')
    .attr('x1', x(lo)).attr('y1', y(lo)).attr('x2', x(hi)).attr('y2', y(hi))
    .attr('stroke', '#000').attr('stroke-width', 5).attr('stroke-dasharray', '7,8');
  const a = fitSlope[i], b = fitIntercept[i];
  clipG.append('line')
    .attr('x1', x(lo - 2)).attr('y1', y(a * (lo - 2) + b))
    .attr('x2', x(hi + 2)).attr('y2', y(a * (hi + 2) + b))
    .attr('stroke', '#ff0000').attr('stroke-width', 5);

  g.append('rect').attr('x', x0).attr('y', y0).attr('width', PW).attr('height', PH)
    .attr('fill', 'none').attr('stroke', '#000').attr('stroke-width', 5);

  g.selectAll('text.xt').data(ticks).join('text')
    .attr('class', 'xt')
    .attr('x', d => x(d)).attr('y', y0 + PH + 38)
    .attr('text-anchor', 'middle').attr('font-size', 31).attr('fill', TXT)
    .text(fmt);
  g.selectAll('text.yt').data(ticks).join('text')
    .attr('class', 'yt')
    .attr('x', x0 - 12).attr('y', d => y(d) + 11)
    .attr('text-anchor', 'end').attr('font-size', 31).attr('fill', TXT)
    .text(fmt);

  g.append('text').attr('x', x0 + PW / 2).attr('y', y0 - 10)
    .attr('text-anchor', 'middle').attr('font-size', 42).attr('fill', TXT)
    .text(name);

  if (showXTitle[i]) {
    const t = g.append('text').attr('x', x0 + PW / 2).attr('y', y0 + PH + 112)
      .attr('text-anchor', 'middle').attr('font-size', 37).attr('fill', TXT);
    addUnitTitle(t, xAxisTitle);
  }
  if (showYTitle[i]) {
    const cx = x0 - 135, cy = y0 + PH / 2;
    const t = g.append('text').attr('transform', `translate(${cx},${cy}) rotate(-90)`)
      .attr('text-anchor', 'middle').attr('font-size', 37).attr('fill', TXT);
    addUnitTitle(t, yAxisTitle);
  }
});
</script>
</body>
</html>
